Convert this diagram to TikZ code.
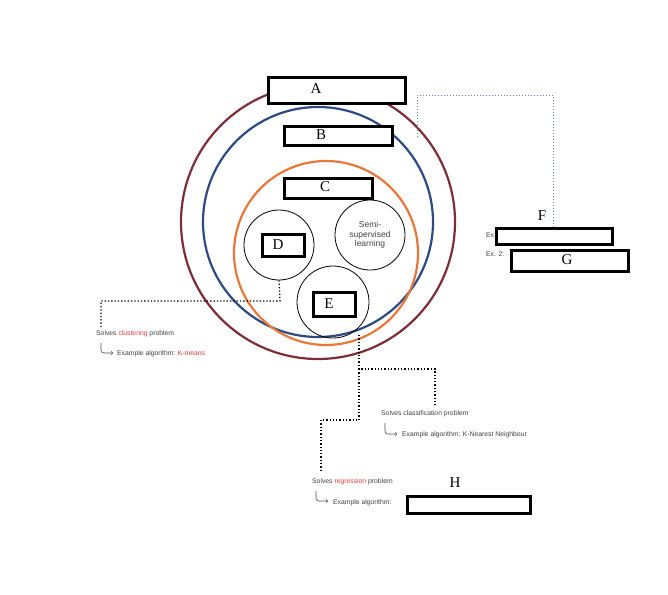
\documentclass[tikz,border=0pt]{standalone}
\usepackage{fontspec}
\setmainfont{Liberation Serif}
\newfontfamily\smallsans{Liberation Sans}
\begin{document}
\begin{tikzpicture}[x=1pt,y=-1pt,
  blackbox/.style={draw=black,line width=3pt,fill=white,inner sep=0pt},
  lbl/.style={font=\fontsize{15}{15}\selectfont,inner sep=0pt},
  note/.style={font=\smallsans\fontsize{6.8}{8}\selectfont,text=black!75,anchor=west,inner sep=0pt},
  dots/.style={dotted,line width=1.3pt},
  hook/.style={black!70,->,line width=0.6pt,rounded corners=3pt},
  ring/.style={line width=2.2pt}]
\definecolor{maroon}{RGB}{125,45,55}
\definecolor{navy}{RGB}{45,75,130}
\definecolor{orng}{RGB}{230,120,60}
\definecolor{red}{RGB}{225,60,60}
\useasboundingbox (0,0) rectangle (668,594);
\draw[ring,maroon] (318,222) circle (137);
\draw[ring,navy] (318,222) circle (115);
\draw[ring,orng] (326,253) circle (92);
\node[draw,circle,minimum size=70,line width=0.8pt] (cd) at (279,245) {};
\node[draw,circle,minimum size=70,line width=0.8pt,align=center,font=\smallsans\fontsize{8.5}{9.5}\selectfont,text=black!75] (cs) at (370,235) {Semi-\\supervised\\learning};
\node[draw,circle,minimum size=72,line width=0.8pt] (ce) at (333,302) {};
% boxes
\node[blackbox,minimum width=137,minimum height=26] (A) at (336.5,90) {};
\node[lbl] at (316,89) {A};
\node[blackbox,minimum width=108,minimum height=19] (B) at (338,135.5) {};
\node[lbl] at (321,135) {B};
\node[blackbox,minimum width=88,minimum height=20] (C) at (328,188) {};
\node[lbl] at (325,187) {C};
\node[blackbox,minimum width=42,minimum height=22] (D) at (283,245) {};
\node[lbl] at (278,245) {D};
\node[blackbox,minimum width=42,minimum height=24] (E) at (334,304) {};
\node[lbl] at (329,304) {E};
% right side
\coordinate (b1) at (417,137);
\coordinate (b2) at (417,95);
\coordinate (b3) at (553,95);
\node[note] (ex1) at (486,235) {Ex. 1:};
\node[note] (ex2) at (486,254) {Ex. 2:};
\node[blackbox,minimum width=116,minimum height=16] (F) at (554,236) {};
\node[lbl] at (542,216) {F};
\node[blackbox,minimum width=117,minimum height=21] (G) at (569.5,260.5) {};
\node[lbl] at (567,260) {G};
\draw[dots,navy!70,line width=1pt] (b1) -- (b2) -- (b3) -- (553,228);
% clustering
\node[note] (t1) at (96,334) {Solves {\color{red}clustering} problem};
\node[note] (t2) at (117,354) {Example algorithm: {\color{red}K-means}};
\draw[dots] (cd.south) -- (280,301) -- (101,301) -- (101,327);
\draw[hook] (101,343) -- (101,353) -- (113,353);
% classification
\node[note] (t3) at (381,414) {Solves classification problem};
\node[note] (t4) at (402,435) {Example algorithm: K-Nearest Neighbour};
\draw[dots] (359,335) -- (359,369) -- (435,369) -- (435,405);
\draw[dots] (359,369) -- (359,420) -- (321,420) -- (321,472);
\draw[hook] (385,423) -- (385,434) -- (397,434);
% regression
\node[note] (t5) at (312,482) {Solves {\color{red}regression} problem};
\node[note] (t6) at (333,503) {Example algorithm:};
\draw[hook] (316,491) -- (316,501) -- (328,501);
\node[blackbox,minimum width=123,minimum height=17] (H) at (468.5,504.5) {};
\node[lbl] at (455,483) {H};
\end{tikzpicture}
\end{document}
